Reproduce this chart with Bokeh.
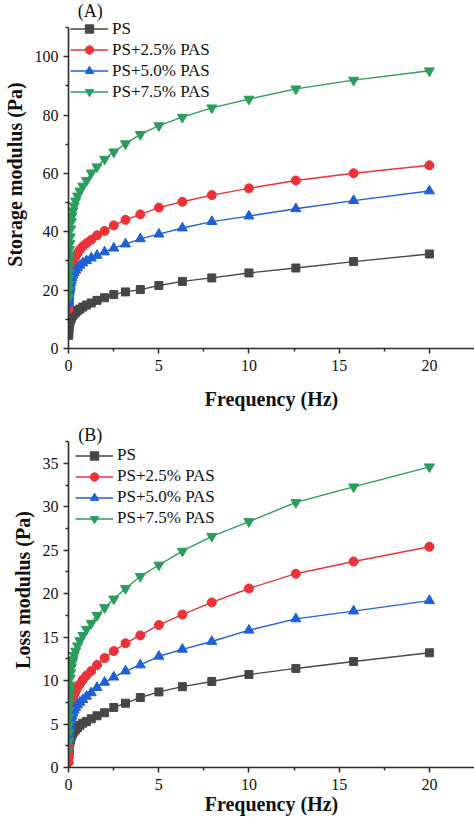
from bokeh.plotting import figure
from bokeh.layouts import column
from bokeh.models import Range1d, FixedTicker, Label
from bokeh.embed import file_html
from bokeh.resources import INLINE

# Frequency sweep points (Hz)
freq = [0.01, 0.0126, 0.0158, 0.02, 0.0251, 0.0316, 0.0398, 0.0501, 0.0631, 0.0794,
        0.1, 0.126, 0.158, 0.2, 0.251, 0.316, 0.398, 0.501, 0.631, 0.794,
        1.0, 1.26, 1.58, 2.0, 2.51, 3.16, 3.98, 5.01, 6.31, 7.94,
        10.0, 12.6, 15.8, 20.0]

series_names = ["PS", "PS+2.5% PAS", "PS+5.0% PAS", "PS+7.5% PAS"]

# Storage modulus G' (Pa)
storage_ps = [4.5, 5.3, 6.2, 7.0, 7.5, 8.0, 8.4, 8.7, 9.0, 9.3,
              9.6, 10.1, 10.5, 11.0, 11.5, 12.0, 12.4, 13.0, 13.5, 14.2,
              14.9, 15.6, 16.5, 17.4, 18.5, 19.4, 20.2, 21.6, 23.0, 24.2,
              25.9, 27.6, 29.8, 32.4]
storage_pas25 = [13.5, 15.5, 17.0, 18.5, 20.0, 21.2, 22.4, 23.5, 24.5, 25.5,
                 26.5, 27.5, 28.4, 29.2, 30.0, 31.0, 31.8, 32.7, 33.9, 35.0,
                 36.1, 37.3, 38.8, 40.3, 42.2, 44.1, 46.0, 48.3, 50.3, 52.6,
                 54.9, 57.6, 60.1, 62.8]
storage_pas50 = [15.5, 16.3, 17.0, 17.8, 18.5, 19.0, 19.5, 20.0, 20.5, 21.0,
                 21.6, 22.5, 23.4, 24.3, 25.2, 26.0, 26.8, 27.6, 28.5, 29.3,
                 30.1, 31.0, 31.9, 33.1, 34.4, 35.8, 37.6, 39.2, 41.3, 43.5,
                 45.4, 47.9, 50.7, 54.0]
storage_pas75 = [17.5, 20.0, 22.0, 24.0, 26.0, 28.0, 30.0, 32.0, 34.0, 36.0,
                 38.3, 41.0, 43.5, 45.5, 47.2, 48.9, 50.6, 52.3, 54.0, 55.7,
                 57.6, 60.2, 62.3, 64.9, 67.4, 70.2, 73.4, 76.4, 79.3, 82.5,
                 85.5, 89.0, 92.0, 95.2]

# Loss modulus G'' (Pa)
loss_ps = [1.3, 1.5, 1.7, 1.9, 2.0, 2.2, 2.4, 2.6, 2.8, 3.0,
           3.2, 3.4, 3.6, 3.8, 4.0, 4.2, 4.4, 4.6, 4.85, 5.1,
           5.3, 5.6, 5.95, 6.3, 6.9, 7.4, 8.05, 8.7, 9.3, 9.9,
           10.7, 11.4, 12.2, 13.2]
loss_pas25 = [0.6, 1.2, 1.8, 2.4, 3.1, 3.8, 4.4, 5.0, 5.5, 6.0,
              6.4, 6.8, 7.2, 7.6, 8.0, 8.4, 8.8, 9.2, 9.6, 10.1,
              10.6, 11.1, 11.8, 12.6, 13.4, 14.3, 15.2, 16.4, 17.6, 19.0,
              20.6, 22.3, 23.7, 25.4]
loss_pas50 = [3.2, 3.5, 3.7, 3.9, 4.2, 4.4, 4.6, 4.8, 5.0, 5.2,
              5.4, 5.6, 5.8, 6.0, 6.3, 6.6, 6.9, 7.2, 7.5, 7.8,
              8.2, 8.6, 9.2, 9.8, 10.4, 11.1, 11.8, 12.8, 13.6, 14.5,
              15.8, 17.1, 18.0, 19.2]
loss_pas75 = [2.0, 3.0, 4.0, 4.9, 5.8, 6.6, 7.4, 8.1, 8.8, 9.5,
              10.3, 10.9, 11.5, 12.0, 12.4, 12.9, 13.4, 14.0, 14.6, 15.2,
              15.9, 16.6, 17.5, 18.4, 19.4, 20.6, 22.0, 23.3, 24.9, 26.6,
              28.3, 30.5, 32.3, 34.6]

x_major = [0, 5, 10, 15, 20]
x_minor = [2.5, 7.5, 12.5, 17.5]

SERIF = "Liberation Serif"
AXIS_COLOR = "#2b2b2b"
colors = ["#474747", "#ec3238", "#1f5fd8", "#2a9d5c"]
markers = ["square", "circle", "triangle", "inverted_triangle"]
marker_sizes = [8, 9, 10, 10]


def panel(tag, tag_y, ylabel, values, y_view, y_axis_top, y_major, y_minor,
          bottom_border, xlabel_standoff, legend_left, legend_top, legend_row):
    # the frame reaches the top of the figure so the legend and panel tag
    # above the axis end stay inside it; the axis line stops at y_axis_top
    frame_h = 412 - bottom_border
    p = figure(width=474, height=412, output_backend="svg", toolbar_location=None,
               x_range=Range1d(0, 22.5), y_range=Range1d(0, y_view),
               min_border_left=66, min_border_right=0,
               min_border_top=0, min_border_bottom=bottom_border)
    p.outline_line_color = None
    p.xgrid.visible = False
    p.ygrid.visible = False
    p.background_fill_color = "white"

    for name, ys, c, m, s in zip(series_names, values, colors, markers, marker_sizes):
        p.line(freq, ys, line_color=c, line_width=1.4, legend_label=name)
        p.scatter(freq, ys, marker=m, size=s, fill_color=c, line_color=c,
                  legend_label=name)

    p.xaxis.ticker = FixedTicker(ticks=x_major, minor_ticks=x_minor)
    p.yaxis.ticker = FixedTicker(ticks=y_major, minor_ticks=y_minor)
    p.yaxis.bounds = (0, y_axis_top)
    for ax in (p.xaxis[0], p.yaxis[0]):
        ax.axis_line_color = AXIS_COLOR
        ax.axis_line_width = 1.6
        ax.major_tick_line_color = AXIS_COLOR
        ax.minor_tick_line_color = AXIS_COLOR
        ax.major_tick_line_width = 1.5
        ax.minor_tick_line_width = 1.5
        ax.major_tick_in = 0
        ax.major_tick_out = 5
        ax.minor_tick_in = 0
        ax.minor_tick_out = 3
        ax.major_label_text_font = SERIF
        ax.major_label_text_font_size = "16px"
        ax.major_label_text_color = "#111111"
        ax.axis_label_text_font = SERIF
        ax.axis_label_text_font_style = "bold"
        ax.axis_label_text_font_size = "20px"
        ax.axis_label_text_color = "#111111"

    p.xaxis.axis_label = "Frequency (Hz)"
    p.xaxis.major_label_standoff = 6
    p.xaxis.axis_label_standoff = xlabel_standoff
    p.yaxis.axis_label = ylabel
    p.yaxis.major_label_standoff = 5
    p.yaxis.axis_label_standoff = 6

    # tuple location = legend's bottom-left corner, measured from the frame's bottom-left
    lg = p.legend[0]
    lg.location = (legend_left, frame_h - legend_top - 4 * legend_row)
    lg.border_line_color = None
    lg.background_fill_alpha = 0
    lg.padding = 0
    lg.margin = 0
    lg.spacing = 0
    lg.label_height = legend_row
    lg.glyph_height = legend_row
    lg.glyph_width = 38
    lg.label_standoff = 4
    lg.label_text_font = SERIF
    lg.label_text_font_size = "17px"
    lg.label_text_color = "#111111"

    p.add_layout(Label(x=1.2, y=tag_y, text=tag, text_font=SERIF,
                       text_font_size="18px", text_align="center",
                       text_baseline="middle", text_color="#111111"))
    return p


p1 = panel("(A)", 115.6, "Storage modulus (Pa)",
           [storage_ps, storage_pas25, storage_pas50, storage_pas75],
           119.3, 110, [0, 20, 40, 60, 80, 100], [10, 30, 50, 70, 90, 110],
           61, 14, 2, 21, 21)
p2 = panel("(B)", 38.3, "Loss modulus (Pa)",
           [loss_ps, loss_pas25, loss_pas50, loss_pas75],
           40.85, 37.5, [0, 5, 10, 15, 20, 25, 30, 35],
           [2.5, 7.5, 12.5, 17.5, 22.5, 27.5, 32.5, 37.5],
           57, 0, 7, 32.5, 21)

layout = column(p1, p2)
open("out.html", "w").write(file_html(layout, INLINE))
